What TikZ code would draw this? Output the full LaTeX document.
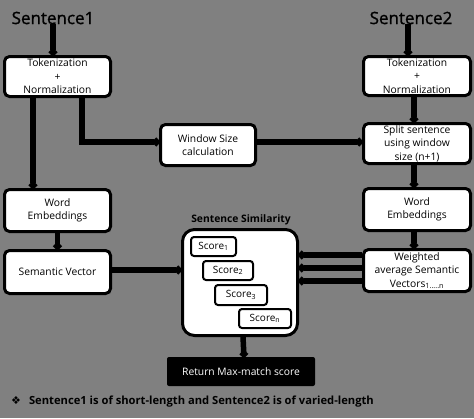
\documentclass[tikz,border=0pt]{standalone}
\usepackage{fontspec}
\setmainfont{Open Sans}
\newfontfamily\dejavu{DejaVu Sans}
\newfontfamily\titlefont[FakeBold=1.2]{Open Sans}
\usetikzlibrary{arrows.meta,calc}
\definecolor{bggray}{RGB}{128,128,128}
\tikzset{
  box/.style={draw=black,line width=3pt,fill=white,rounded corners=5pt,align=center,
    inner sep=0pt,font=\fontsize{10.3}{13.5}\selectfont},
  scorebox/.style={draw=black,line width=2pt,fill=white,rounded corners=3pt,inner sep=0pt,
    font=\fontsize{10}{11}\selectfont},
  conn/.style={line width=5.5pt,-{Circle[length=7.5pt,width=7.5pt]},shorten >=-1pt},
  title/.style={font=\titlefont\fontsize{17}{20}\selectfont,inner sep=0pt}
}
\begin{document}
\begin{tikzpicture}[x=1pt,y=-1pt]
\fill[bggray] (0,0) rectangle (474,418);
\useasboundingbox (0,0) rectangle (474,418);
\node[title] (t1lbl) at (53,18) {Sentence1};
\node[title] (t2lbl) at (411,18) {Sentence2};
\node[box,minimum width=106,minimum height=40] (tok1) at (57.5,76.5) {Tokenization\\+\\Normalization};
\node[box,minimum width=107,minimum height=39] (tok2) at (417,76) {Tokenization\\+\\Normalization};
\node[box,minimum width=95,minimum height=41] (win) at (208,145) {Window Size\\calculation};
\node[box,minimum width=107,minimum height=40] (split) at (417,143.5) {Split sentence\\using window\\size (n+1)};
\node[box,minimum width=106,minimum height=42] (we1) at (57.5,210.5) {Word\\Embeddings};
\node[box,minimum width=106,minimum height=43] (sv) at (57.5,272) {Semantic Vector};
\node[box,minimum width=107,minimum height=42] (we2) at (417,209.5) {Word\\Embeddings};
\node[box,minimum width=107,minimum height=42] (wt) at (417,270.5) {Weighted\\average Semantic\\Vectors\textsubscript{1.....n}};
\node[box,rounded corners=12pt,minimum width=115,minimum height=106] (sim) at (240,282.5) {};
\node[font=\bfseries\fontsize{10.3}{12}\selectfont,inner sep=0pt] (simlbl) at (241,220) {Sentence Similarity};
\node[scorebox,minimum width=45,minimum height=19] (sc1) at (213.5,246.5) {Score\textsubscript{1}};
\node[scorebox,minimum width=50,minimum height=19] (sc2) at (228,270.5) {Score\textsubscript{2}};
\node[scorebox,minimum width=52,minimum height=20] (sc3) at (241,295) {Score\textsubscript{3}};
\node[scorebox,minimum width=52,minimum height=19] (scn) at (265,318.5) {Score\textsubscript{n}};
\node[fill=black,text=white,rounded corners=2pt,minimum width=148,minimum height=29,inner sep=0pt,
  font=\fontsize{10.3}{11}\selectfont] (ret) at (241,371.5) {Return Max-match score};
\node[anchor=west,inner sep=0pt,font=\bfseries\fontsize{11.2}{13}\selectfont] (note) at (11,402)
  {{\dejavu\fontsize{11}{13}\selectfont ❖}\hspace{8pt}Sentence1 is of short-length and Sentence2 is of varied-length};
% connectors
\draw[conn] (t1lbl.south) -- (t1lbl.south |- tok1.north);
\draw[conn] ([xshift=-3pt]t2lbl.south) -- ([xshift=-3pt]t2lbl.south |- tok2.north);
\draw[conn] ([xshift=-24.5pt]tok1.south) -- ([xshift=-24.5pt]we1.north);
\draw[conn] ([xshift=24.5pt]tok1.south) |- ([yshift=3pt]win.west);
\draw[conn] ([yshift=3pt]win.east) -- ([yshift=3pt]win.east -| split.west);
\draw[conn] ([xshift=-3pt]tok2.south) -- ([xshift=-3pt]split.north);
\draw[conn] ([xshift=-3pt]split.south) -- ([xshift=-3pt]we2.north);
\draw[conn] ([xshift=-3pt]we2.south) -- ([xshift=-3pt]wt.north);
\draw[conn] (we1.south) -- (sv.north);
\draw[conn] ([yshift=2pt]sv.east) -- ([yshift=2pt]sv.east -| sim.west);
\draw[conn] ([yshift=-10.5pt]wt.west) -- ([yshift=-10.5pt]wt.west -| sim.east);
\draw[conn] ([yshift=2.5pt]wt.west) -- ([yshift=2.5pt]wt.west -| sim.east);
\draw[conn] ([yshift=15.5pt]wt.west) -- ([yshift=15.5pt]wt.west -| sim.east);
\draw[conn] ([xshift=3pt]sim.south) -- ([xshift=3pt]ret.north);
\end{tikzpicture}
\end{document}
